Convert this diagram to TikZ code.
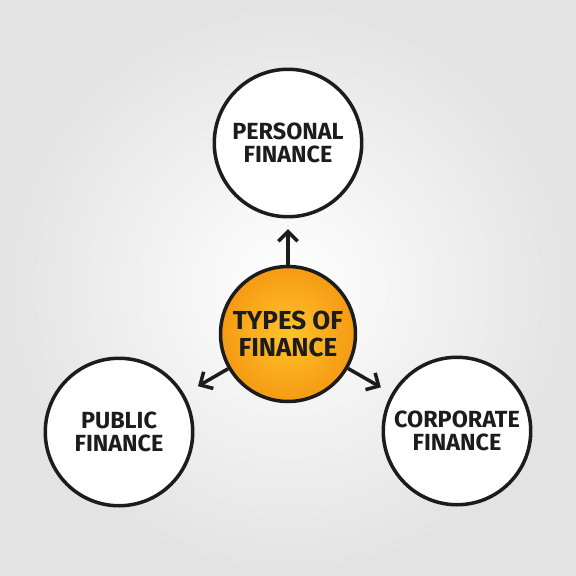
\documentclass[tikz,border=0pt]{standalone}
\usepackage{fontspec}
\setmainfont{Fira Sans}
\usetikzlibrary{arrows.meta}
\definecolor{inkblack}{HTML}{1C1C1C}
\definecolor{orangein}{HTML}{FFC428}
\definecolor{orangeout}{HTML}{F59A14}
\begin{document}
\begin{tikzpicture}[x=0.02cm, y=-0.02cm,
    topic/.style={draw=inkblack, circle, line width=2pt, fill=white, minimum size=2.95cm,
      align=center, font=\fontsize{13.3}{13}\selectfont\bfseries, text=inkblack},
    hub/.style={topic, minimum size=2.7cm, inner color=orangein, outer color=orangeout,
      font=\fontsize{14.8}{15.5}\selectfont\bfseries},
    link/.style={-{Straight Barb[length=5.5pt, width=11pt, line width=2pt]}, line width=2pt,
      draw=inkblack, shorten >=12pt}]
    % background
    \shade[inner color=white, outer color=black!11] (0,0) rectangle (576,576);
    \useasboundingbox (0,0) rectangle (576,576);
    \node at (288,334) [hub] (T) {TYPES OF\\FINANCE};
    \node at (288,143) [topic] (P) {PERSONAL\\FINANCE};
    \node at (119,432) [topic] (U) {PUBLIC\\FINANCE};
    \node at (457,431) [topic] (C) {CORPORATE\\FINANCE};
    \draw[link, shorten >=6pt] (T) -- (P);
    \draw[link, shorten >=9pt] (T) -- (U);
    \draw[link, shorten >=7pt] (T) -- (C);
\end{tikzpicture}
\end{document}
